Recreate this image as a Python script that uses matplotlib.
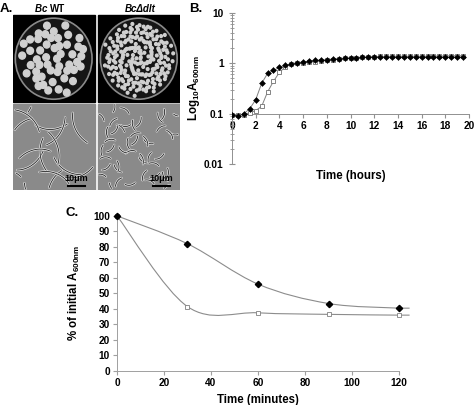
import numpy as np
import matplotlib
matplotlib.use("Agg")
import matplotlib.pyplot as plt
from matplotlib.path import Path
from matplotlib.patches import PathPatch, Circle, Rectangle

plt.rcParams['font.family'] = ['Liberation Sans', 'DejaVu Sans']
plt.rcParams['font.weight'] = 'bold'
plt.rcParams['mathtext.fontset'] = 'custom'
plt.rcParams['mathtext.bf'] = 'Liberation Sans:bold'
plt.rcParams['mathtext.rm'] = 'Liberation Sans:bold'
plt.rcParams['mathtext.default'] = 'bf'

# ---- data: panel B (growth curves) ----
hours = [0, 0.5, 1, 1.5, 2, 2.5, 3, 3.5, 4, 4.5, 5, 5.5, 6, 6.5, 7, 7.5, 8, 8.5, 9, 9.5,
         10, 10.5, 11, 11.5, 12, 12.5, 13, 13.5, 14, 14.5, 15, 15.5, 16, 16.5, 17, 17.5,
         18, 18.5, 19, 19.5]
od_wt = [0.092, 0.090, 0.100, 0.126, 0.19, 0.40, 0.63, 0.72, 0.83, 0.92, 0.98, 1.02,
         1.06, 1.10, 1.14, 1.16, 1.18, 1.21, 1.24, 1.26, 1.28, 1.30, 1.31, 1.33, 1.34,
         1.34, 1.34, 1.34, 1.34, 1.34, 1.34, 1.34, 1.34, 1.34, 1.33, 1.33, 1.33, 1.33,
         1.33, 1.33]
od_dlt = [0.093, 0.092, 0.096, 0.105, 0.115, 0.14, 0.27, 0.44, 0.66, 0.85, 0.96, 1.00,
          1.02, 1.05, 1.08, 1.11, 1.14, 1.18, 1.22, 1.25, 1.28, 1.30, 1.32, 1.34, 1.36,
          1.37, 1.37, 1.38, 1.38, 1.38, 1.38, 1.38, 1.38, 1.38, 1.39, 1.39, 1.40, 1.41,
          1.41, 1.41]

# ---- data: panel C (lysis) ----
minutes = [0, 30, 60, 90, 120]
pct_wt = [100, 82, 56, 43.5, 40.5]
pct_dlt = [100, 41.5, 37.5, 36.5, 36]


def smooth_path(x, y, tail):
    # Excel-like smoothed line as bezier segments through the points
    pts = np.column_stack([x, y]).astype(float)
    verts = [pts[0]]
    codes = [Path.MOVETO]
    n = len(pts)
    for i in range(n - 1):
        p0 = pts[max(i - 1, 0)]
        p1 = pts[i]
        p2 = pts[i + 1]
        p3 = pts[min(i + 2, n - 1)]
        verts += [p1 + (p2 - p0) / 6.0, p2 - (p3 - p1) / 6.0, p2]
        codes += [Path.CURVE4] * 3
    verts.append([pts[-1][0] + tail, pts[-1][1]])
    codes.append(Path.LINETO)
    return Path(verts, codes)


fig = plt.figure(figsize=(4.74, 4.05), dpi=100)

# ---- panel A: photo mock-up ----
axA = fig.add_axes([0.027, 0.531, 0.352, 0.435])
axA.set_xlim(0, 2)
axA.set_ylim(0, 2)
axA.axis('off')
golden = (np.sqrt(5) - 1) / 2
for col, (n_col, r_col) in enumerate([(50, 0.04), (230, 0.016)]):
    x0 = col * 1.02
    axA.add_patch(Rectangle((x0, 1.0), 0.98, 0.99, color='black'))
    axA.add_patch(Circle((x0 + 0.49, 1.49), 0.46, facecolor='#161616',
                         edgecolor='#8a8a8a', lw=1.2))
    k = np.arange(n_col)
    rad = 0.40 * np.sqrt((k + 0.5) / n_col)
    ang = k * 2 * np.pi * golden
    jitter = 0.035 * np.sin(k * 7.3)
    cx = x0 + 0.49 + (rad + jitter) * np.cos(ang)
    cy = 1.49 + (rad + jitter) * np.sin(ang)
    for a, b in zip(cx, cy):
        axA.add_patch(Circle((a, b), r_col, color='#d0d0d0'))
    # microscopy panel
    axA.add_patch(Rectangle((x0, 0.0), 0.98, 0.98, color='#8a8a8a'))
    n_cells = 16 if col == 0 else 45
    seg = 0.38 if col == 0 else 0.12
    for j in range(n_cells):
        sx = x0 + 0.05 + 0.88 * ((j * golden * 1.7) % 1)
        sy = 0.05 + 0.88 * ((j * golden * 3.1 + 0.2) % 1)
        th = j * 2.4
        tt = np.linspace(0, 1, 12)
        px = sx + seg * tt * np.cos(th + 0.6 * tt)
        py = sy + seg * tt * np.sin(th + 0.6 * tt)
        m = (px > x0 + 0.01) & (px < x0 + 0.97) & (py > 0.01) & (py < 0.97)
        axA.plot(px[m], py[m], color='#e8e8e8', lw=1.6, solid_capstyle='round')
        axA.plot(px[m], py[m], color='#222222', lw=0.6)
    axA.plot([x0 + 0.66, x0 + 0.86], [0.05, 0.05], color='black', lw=1.5)
    axA.text(x0 + 0.76, 0.08, '10μm', ha='center', va='bottom', fontsize=6.5,
             color='black', fontweight='bold')
fig.text(0.105, 0.978, 'Bc ', ha='right', va='center', fontsize=7,
         fontstyle='italic', fontweight='bold')
fig.text(0.105, 0.978, 'WT', ha='left', va='center', fontsize=7,
         fontweight='bold')
fig.text(0.296, 0.978, 'BcΔdlt', ha='center', va='center', fontsize=7,
         fontstyle='italic', fontweight='bold')
fig.text(0.0, 0.978, 'A.', ha='left', va='center', fontsize=9.5, fontweight='bold')

# ---- panel B ----
axB = fig.add_axes([0.4895, 0.595, 0.5, 0.373])
axB.plot(hours, od_dlt, color='#808080', lw=0.7, marker='s', ms=3.2,
         mfc='white', mec='#707070', mew=0.6, zorder=3)
axB.plot(hours, od_wt, color='#808080', lw=0.7, marker='D', ms=3.0,
         mfc='black', mec='black', mew=0.4, zorder=4)
axB.set_yscale('log')
axB.set_ylim(0.01, 10)
axB.set_xlim(0, 20)
axB.set_xticks(range(0, 21, 2))
axB.set_yticks([0.01, 0.1, 1, 10])
axB.set_yticklabels(['0.01', '0.1', '1', '10'])
for s in ['top', 'right']:
    axB.spines[s].set_visible(False)
axB.spines['bottom'].set_position(('data', 0.1))
for s in ['left', 'bottom']:
    axB.spines[s].set_color('#909090')
    axB.spines[s].set_linewidth(0.7)
axB.tick_params(axis='y', which='both', direction='inout', color='#909090',
                labelsize=7.3)
axB.tick_params(axis='y', which='major', length=5)
axB.tick_params(axis='y', which='minor', length=3)
axB.tick_params(axis='x', direction='out', length=3, color='#909090',
                labelsize=7.3, pad=2)
axB.set_xlabel('Time (hours)', fontsize=8.3, fontweight='bold')
axB.xaxis.set_label_coords(0.5, -0.04)
axB.set_ylabel('Log$_{10}$A$_{600nm}$', fontsize=8.3, fontweight='bold')
axB.yaxis.set_label_coords(-0.127, 0.5)
fig.text(0.40, 0.978, 'B.', ha='left', va='center', fontsize=9.5, fontweight='bold')

# ---- panel C ----
axC = fig.add_axes([0.2468, 0.084, 0.595, 0.383])
tail = 4.5
for x, y in [(minutes, pct_wt), (minutes, pct_dlt)]:
    axC.add_patch(PathPatch(smooth_path(x, y, tail), facecolor='none',
                            edgecolor='#8c8c8c', lw=0.8, clip_on=False))
axC.plot(minutes, pct_dlt, ls='none', marker='s', ms=3.4, mfc='white',
         mec='#808080', mew=0.6, clip_on=False, zorder=3)
axC.plot(minutes, pct_wt, ls='none', marker='D', ms=3.2, mfc='black',
         mec='black', clip_on=False, zorder=4)
axC.set_xlim(0, 120)
axC.set_ylim(0, 100)
axC.set_xticks(range(0, 121, 20))
axC.set_yticks(range(0, 101, 10))
for s in ['top', 'right']:
    axC.spines[s].set_visible(False)
for s in ['left', 'bottom']:
    axC.spines[s].set_color('#a0a0a0')
    axC.spines[s].set_linewidth(0.7)
axC.tick_params(direction='out', length=3, color='#a0a0a0', labelsize=7.3, pad=2)
axC.set_xlabel('Time (minutes)', fontsize=8.3, fontweight='bold')
axC.xaxis.set_label_coords(0.5, -0.148)
axC.set_ylabel('% of initial A$_{600nm}$', fontsize=8.3, fontweight='bold')
axC.yaxis.set_label_coords(-0.124, 0.5)
fig.text(0.138, 0.474, 'C.', ha='left', va='center', fontsize=9.5, fontweight='bold')

fig.savefig('out.png', dpi=100)
